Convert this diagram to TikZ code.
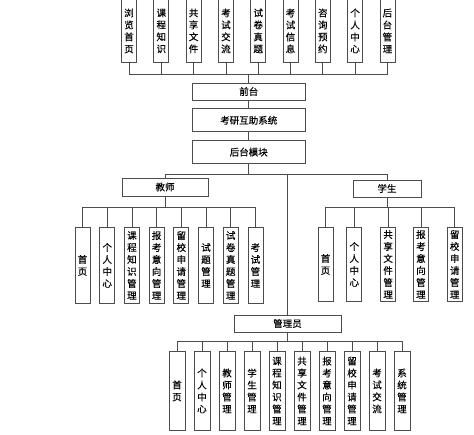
\documentclass[tikz,border=0pt]{standalone}
\usepackage{fontspec}
\newfontfamily\cjk[FakeBold=0.4]{Noto Sans CJK SC}
\usetikzlibrary{positioning}

\begin{document}
\begin{tikzpicture}[x=1pt, y=-1pt, line width=0.8pt, draw=black!70,
		font=\cjk\fontsize{9.5}{12}\selectfont,
		box/.style={draw=black!70, inner sep=0pt},
		vbox/.style={draw=black!70, inner sep=0pt, align=center, minimum width=15pt}]
		\useasboundingbox (0,0) rectangle (474,434);

		% top row
		\node[vbox, minimum height=63pt, anchor=north] (t1) at (129,-1) {浏\\览\\首\\页};
		\node[vbox, minimum height=63pt] (t2) [right=16.5pt of t1] {课\\程\\知\\识};
		\node[vbox, minimum height=63pt] (t3) [right=16.5pt of t2] {共\\享\\文\\件};
		\node[vbox, minimum height=63pt] (t4) [right=16.5pt of t3] {考\\试\\交\\流};
		\node[vbox, minimum height=63pt] (t5) [right=16.5pt of t4] {试\\卷\\真\\题};
		\node[vbox, minimum height=63pt] (t6) [right=16.5pt of t5] {考\\试\\信\\息};
		\node[vbox, minimum height=63pt] (t7) [right=16.5pt of t6] {咨\\询\\预\\约};
		\node[vbox, minimum height=63pt] (t8) [right=16.5pt of t7] {个\\人\\中\\心};
		\node[vbox, minimum height=63pt] (t9) [right=16.5pt of t8] {后\\台\\管\\理};

		% middle column
		\node[box, minimum width=112.5pt, minimum height=17pt] (front) at (248.75,91.5) {前台};
		\node[box, minimum width=112.5pt, minimum height=23pt] (sys) [below=8pt of front] {考研互助系统};
		\node[box, minimum width=112.5pt, minimum height=23pt] (back) [below=8pt of sys] {后台模块};

		\node[box, minimum width=86pt, minimum height=18pt] (tea) at (165,187) {教师};
		\node[box, minimum width=68pt, minimum height=17pt] (stu) at (387,188.5) {学生};
		\node[box, minimum width=107pt, minimum height=17pt] (adm) at (287.5,323.5) {管理员};

		% teacher
		\node[vbox, minimum height=76pt, anchor=north] (e1) at (82.5,227) {首\\页};
		\node[vbox, minimum height=76pt] (e2) [right=8.9pt of e1] {个\\人\\中\\心};
		\node[vbox, minimum height=76pt] (e3) [right=8.9pt of e2] {课\\程\\知\\识\\管\\理};
		\node[vbox, minimum height=76pt] (e4) [right=8.9pt of e3] {报\\考\\意\\向\\管\\理};
		\node[vbox, minimum height=76pt] (e5) [right=8.9pt of e4] {留\\校\\申\\请\\管\\理};
		\node[vbox, minimum height=76pt] (e6) [right=8.9pt of e5] {试\\题\\管\\理};
		\node[vbox, minimum height=76pt] (e7) [right=8.9pt of e6] {试\\卷\\真\\题\\管\\理};
		\node[vbox, minimum height=76pt] (e8) [right=8.9pt of e7] {考\\试\\管\\理};

		% student
		\node[vbox, minimum height=74pt, anchor=north] (s1) at (325.5,227) {首\\页};
		\node[vbox, minimum height=74pt] (s2) [right=13pt of s1] {个\\人\\中\\心};
		\node[vbox, minimum height=74pt] (s3) [right=18pt of s2] {共\\享\\文\\件\\管\\理};
		\node[vbox, minimum height=74pt] (s4) [right=17pt of s3] {报\\考\\意\\向\\管\\理};
		\node[vbox, minimum height=74pt] (s5) [right=18pt of s4] {留\\校\\申\\请\\管\\理};

		% admin
		\node[vbox, minimum height=79pt, minimum width=16pt, anchor=north] (a1) at (177,351) {首\\页};
		\node[vbox, minimum height=79pt, minimum width=16pt] (a2) [right=8.2pt of a1] {个\\人\\中\\心};
		\node[vbox, minimum height=79pt, minimum width=16pt] (a3) [right=8.2pt of a2] {教\\师\\管\\理};
		\node[vbox, minimum height=79pt, minimum width=16pt] (a4) [right=8.2pt of a3] {学\\生\\管\\理};
		\node[vbox, minimum height=79pt, minimum width=16pt] (a5) [right=8.2pt of a4] {课\\程\\知\\识\\管\\理};
		\node[vbox, minimum height=79pt, minimum width=16pt] (a6) [right=8.2pt of a5] {共\\享\\文\\件\\管\\理};
		\node[vbox, minimum height=79pt, minimum width=16pt] (a7) [right=8.2pt of a6] {报\\考\\意\\向\\管\\理};
		\node[vbox, minimum height=79pt, minimum width=16pt] (a8) [right=8.2pt of a7] {留\\校\\申\\请\\管\\理};
		\node[vbox, minimum height=79pt, minimum width=16pt] (a9) [right=8.2pt of a8] {考\\试\\交\\流};
		\node[vbox, minimum height=79pt, minimum width=16pt] (a10) [right=8.2pt of a9] {系\\统\\管\\理};

		\coordinate (fb) at ([yshift=8pt]front.north);
		\coordinate (mb) at ([yshift=-10pt]back.south);
		\coordinate (tb) at ([yshift=-11pt]tea.south);
		\coordinate (sb) at ([yshift=-10pt]stu.south);
		\coordinate (ab) at ([yshift=-9pt]adm.south);

		\draw (t1) |- (fb) (t2) |- (fb) (t3) |- (fb) (t4) |- (fb) (t5) |- (fb)
			(t6) |- (fb) (t7) |- (fb) (t8) |- (fb) (t9) |- (fb);
		\draw (fb) -- (front);
		\draw (front) -- (sys);
		\draw (sys) -- (back);
		\draw (back) -- (mb);
		\draw (mb) -| (tea);
		\draw (mb) -| (stu);
		\draw (mb) -| (adm);

		\draw (tea) -- (tb);
		\draw (tb) -| (e1) (tb) -| (e2) (tb) -| (e3) (tb) -| (e4)
			(tb) -| (e5) (tb) -| (e6) (tb) -| (e7) (tb) -| (e8);
		\draw (stu) -- (sb);
		\draw (sb) -| (s1) (sb) -| (s2) (sb) -| (s3) (sb) -| (s4) (sb) -| (s5);
		\draw (adm) -- (ab);
		\draw (ab) -| (a1) (ab) -| (a2) (ab) -| (a3) (ab) -| (a4) (ab) -| (a5)
			(ab) -| (a6) (ab) -| (a7) (ab) -| (a8) (ab) -| (a9) (ab) -| (a10);
	\end{tikzpicture}
\end{document}
